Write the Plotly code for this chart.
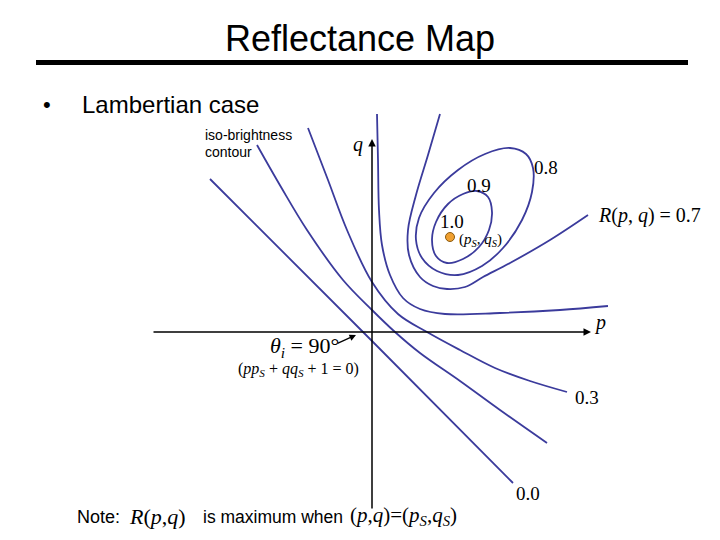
import plotly.graph_objects as go

# ---- data: iso-brightness contours of R(p, q) (p, q units) ----
c00_p = [-1.62, 0.0, 1.41]
c00_q = [1.53, -0.09, -1.51]

c02_p = [-1.15, -0.91, -0.65, -0.29, 0.0, 0.23, 0.48, 0.88, 1.28, 1.75]
c02_q = [1.87, 1.45, 1.02, 0.52, 0.22, 0.0, -0.21, -0.49, -0.78, -1.11]

c03_p = [-0.64, -0.44, -0.25, 0.0, 0.26, 0.55, 0.88, 1.23, 1.58, 1.95]
c03_q = [2.04, 1.52, 1.02, 0.5, 0.18, 0.0, -0.18, -0.36, -0.49, -0.60]

c05_p = [0.05, 0.06, 0.07, 0.10, 0.18, 0.31, 0.48, 0.73, 1.28, 1.88, 2.36]
c05_q = [2.18, 1.72, 1.22, 0.87, 0.57, 0.34, 0.23, 0.18, 0.19, 0.22, 0.26]

c07_p = [0.68, 0.56, 0.44, 0.36, 0.37, 0.48, 0.61, 0.75, 0.93, 1.11, 1.38, 1.78, 2.16]
c07_q = [2.18, 1.77, 1.37, 1.02, 0.77, 0.55, 0.46, 0.43, 0.45, 0.55, 0.69, 0.92, 1.17]

c08_p = [1.38, 1.54, 1.61, 1.60, 1.50, 1.31, 1.10, 0.86, 0.65, 0.50, 0.44, 0.47, 0.62, 0.86, 1.13, 1.38]
c08_q = [1.84, 1.78, 1.64, 1.40, 1.12, 0.84, 0.66, 0.57, 0.61, 0.74, 0.92, 1.14, 1.39, 1.62, 1.78, 1.84]

c09_p = [1.05, 1.16, 1.20, 1.17, 1.07, 0.91, 0.75, 0.64, 0.60, 0.64, 0.76, 0.91, 1.05]
c09_q = [1.41, 1.35, 1.20, 1.02, 0.85, 0.73, 0.69, 0.76, 0.92, 1.10, 1.28, 1.38, 1.41]

source_p = [0.78]
source_q = [0.95]

curves = [(c00_p, c00_q), (c02_p, c02_q), (c03_p, c03_q), (c05_p, c05_q),
          (c07_p, c07_q), (c08_p, c08_q), (c09_p, c09_q)]

CURVE = "#3b3b9c"
SERIF = "Liberation Serif"
SANS = "Liberation Sans"

W, H = 720, 540
OFF = 8                      # page margin around the figure
X0, Y0, K = 372.0, 332.0, 100.0   # screen position of the origin, px per unit
XR = [(OFF - X0) / K, (OFF + W - X0) / K]
YR = [(Y0 - OFF - H) / K, (Y0 - OFF) / K]

fig = go.Figure()
for cp, cq in curves:
    fig.add_trace(go.Scatter(x=cp, y=cq, mode="lines",
                             line=dict(color=CURVE, width=1.8, shape="spline", smoothing=1.0),
                             hoverinfo="skip", showlegend=False))

fig.add_trace(go.Scatter(x=source_p, y=source_q, mode="markers",
                         marker=dict(color="#f0a030", size=9, line=dict(color="#8a5a10", width=1)),
                         hoverinfo="skip", showlegend=False))


def D(x, y):
    return (x - X0) / K, (Y0 - y) / K


ann = []


def txt(x, y, s, size, font=SANS, xanchor="center", color="black"):
    px, py = D(x, y)
    ann.append(dict(x=px, y=py, xref="x", yref="y", text=s, showarrow=False,
                    xanchor=xanchor, yanchor="middle",
                    font=dict(family=font, size=size, color=color)))


txt(360, 38, "Reflectance Map", 36)
txt(47, 104, "•", 22)
txt(80, 104, "Lambertian case", 24, xanchor="left")
txt(203, 135, "iso-brightness", 14, xanchor="left")
txt(203, 152, "contour", 14, xanchor="left")
txt(358, 144, "<i>q</i>", 20, SERIF)
txt(600, 322, "<i>p</i>", 20, SERIF)
txt(546, 167, "0.8", 19, SERIF)
txt(479, 185, "0.9", 19, SERIF)
txt(452, 221, "1.0", 19, SERIF)
txt(457, 240, "(<i>p</i><sub><i>S</i></sub>, <i>q</i><sub><i>S</i></sub>)", 15, SERIF, xanchor="left")
txt(596, 215, "<i>R</i>(<i>p</i>, <i>q</i>) = 0.7", 20, SERIF, xanchor="left")
txt(587, 397, "0.3", 19, SERIF)
txt(528, 493, "0.0", 19, SERIF)
txt(268, 347, "<i>θ</i><sub><i>i</i></sub> = 90°", 22, SERIF, xanchor="left")
txt(236, 369, "(<i>pp</i><sub><i>S</i></sub> + <i>qq</i><sub><i>S</i></sub> + 1 = 0)", 16, SERIF, xanchor="left")
txt(75, 517, "Note:", 18, xanchor="left")
txt(127, 516, "<i>R</i>(<i>p</i>,<i>q</i>)", 22, SERIF, xanchor="left")
txt(201, 517, "is maximum when", 17.5, xanchor="left")
txt(348, 516, "(<i>p</i>,<i>q</i>)=(<i>p</i><sub><i>S</i></sub>,<i>q</i><sub><i>S</i></sub>)", 21, SERIF, xanchor="left")


def arrow(x0, y0, x1, y1, width=1.5, size=1.0):
    a0 = D(x0, y0)
    a1 = D(x1, y1)
    ann.append(dict(x=a1[0], y=a1[1], ax=a0[0], ay=a0[1], xref="x", yref="y",
                    axref="x", ayref="y", text="", showarrow=True,
                    arrowhead=2, arrowsize=size, arrowwidth=width, arrowcolor="black"))


arrow(152, 332, 591, 332)
arrow(372, 510, 372, 139)
arrow(336, 344, 356, 335, width=1.3)

bx0, by0 = D(36, 65)
bx1, by1 = D(688, 60)

fig.update_layout(
    width=W, height=H, autosize=False,
    margin=dict(l=0, r=0, t=0, b=0, pad=0),
    paper_bgcolor="white", plot_bgcolor="white",
    xaxis=dict(range=XR, visible=False, fixedrange=True),
    yaxis=dict(range=YR, visible=False, fixedrange=True),
    annotations=ann,
    shapes=[dict(type="rect", xref="x", yref="y",
                 x0=bx0, x1=bx1, y0=by0, y1=by1,
                 fillcolor="black", line=dict(width=0))],
)

fig.write_html("out.html")
